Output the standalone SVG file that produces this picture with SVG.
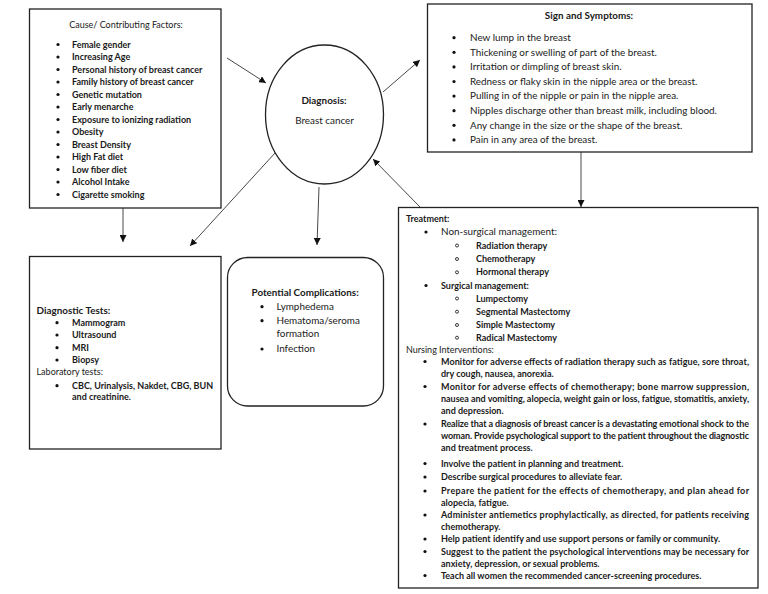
<svg xmlns="http://www.w3.org/2000/svg" width="768" height="594" viewBox="0 0 768 594">
<defs>
<marker id="ah" viewBox="0 0 10 10" refX="10" refY="5" markerWidth="7" markerHeight="7" markerUnits="userSpaceOnUse" orient="auto">
<path d="M0,0 L10,5 L0,10 z" fill="#111"/>
</marker>
<style>
text{font-family:Lato,"Liberation Sans",sans-serif;font-size:9px;fill:#1a1a1a}
.b,.b text{font-weight:bold}
.c{text-anchor:middle}
.l,.l text{font-size:9.9px}
.box{fill:#fff;stroke:#222;stroke-width:1.3}
.con{stroke:#333;stroke-width:0.9;fill:none;marker-end:url(#ah)}
.dot{fill:#111}
.ring{fill:none;stroke:#222;stroke-width:0.9}
</style>
</defs>
<rect width="768" height="594" fill="#fff"/>

<g id="connectors">
<line class="con" x1="227" y1="58" x2="266" y2="83"/>
<line class="con" x1="383" y1="92" x2="420" y2="60"/>
<line class="con" x1="275" y1="153" x2="190" y2="246"/>
<line class="con" x1="319" y1="187" x2="317" y2="245"/>
<line class="con" x1="420" y1="207" x2="373" y2="159"/>
<line class="con" x1="123" y1="208" x2="123" y2="242"/>
<line class="con" x1="581" y1="152" x2="581" y2="207"/>
</g>

<g id="causes">
<rect class="box" x="29.5" y="9" width="191.5" height="199"/>
<text class="c" x="126" y="27.5">Cause/ Contributing Factors:</text>
<g class="dot">
<circle cx="58" cy="44.5" r="1.6"/><circle cx="58" cy="57" r="1.6"/><circle cx="58" cy="69.5" r="1.6"/><circle cx="58" cy="82" r="1.6"/><circle cx="58" cy="94.5" r="1.6"/><circle cx="58" cy="107" r="1.6"/><circle cx="58" cy="119.5" r="1.6"/><circle cx="58" cy="132" r="1.6"/><circle cx="58" cy="144.5" r="1.6"/><circle cx="58" cy="157" r="1.6"/><circle cx="58" cy="169.5" r="1.6"/><circle cx="58" cy="182" r="1.6"/><circle cx="58" cy="194.5" r="1.6"/>
</g>
<g class="b">
<text x="72" y="47.5">Female gender</text>
<text x="72" y="60">Increasing Age</text>
<text x="72" y="72.5">Personal history of breast cancer</text>
<text x="72" y="85">Family history of breast cancer</text>
<text x="72" y="97.5">Genetic mutation</text>
<text x="72" y="110">Early menarche</text>
<text x="72" y="122.5">Exposure to ionizing radiation</text>
<text x="72" y="135">Obesity</text>
<text x="72" y="147.5">Breast Density</text>
<text x="72" y="160">High Fat diet</text>
<text x="72" y="172.5">Low fiber diet</text>
<text x="72" y="185">Alcohol Intake</text>
<text x="72" y="197.5">Cigarette smoking</text>
</g>
</g>

<g id="diagnosis">
<ellipse cx="324.5" cy="114.5" rx="59" ry="69.5" fill="#fff" stroke="#222" stroke-width="1.3"/>
<text class="c b l" x="324" y="103.5">Diagnosis:</text>
<text class="c l" x="324.5" y="124">Breast cancer</text>
</g>

<g id="signs">
<rect class="box" x="427.5" y="4" width="324.5" height="148"/>
<text class="c b l" x="589" y="18.5">Sign and Symptoms:</text>
<g class="dot">
<circle cx="454" cy="37.7" r="1.6"/><circle cx="454" cy="52.3" r="1.6"/><circle cx="454" cy="66.9" r="1.6"/><circle cx="454" cy="81.5" r="1.6"/><circle cx="454" cy="96.1" r="1.6"/><circle cx="454" cy="110.7" r="1.6"/><circle cx="454" cy="125.3" r="1.6"/><circle cx="454" cy="139.9" r="1.6"/>
</g>
<g class="l">
<text x="470" y="41">New lump in the breast</text>
<text x="470" y="55.6">Thickening or swelling of part of the breast.</text>
<text x="470" y="70.2">Irritation or dimpling of breast skin.</text>
<text x="470" y="84.8">Redness or flaky skin in the nipple area or the breast.</text>
<text x="470" y="99.4">Pulling in of the nipple or pain in the nipple area.</text>
<text x="470" y="114">Nipples discharge other than breast milk, including blood.</text>
<text x="470" y="128.6">Any change in the size or the shape of the breast.</text>
<text x="470" y="143.2">Pain in any area of the breast.</text>
</g>
</g>

<g id="diagnostic-tests">
<rect class="box" x="29.5" y="256.5" width="191.5" height="192.5"/>
<text class="b l" x="36.5" y="314.3">Diagnostic Tests:</text>
<g class="dot">
<circle cx="57" cy="322.7" r="1.6"/><circle cx="57" cy="335" r="1.6"/><circle cx="57" cy="347.7" r="1.6"/><circle cx="57" cy="360" r="1.6"/><circle cx="57" cy="385.7" r="1.6"/>
</g>
<g class="b">
<text x="72" y="325.7">Mammogram</text>
<text x="72" y="338">Ultrasound</text>
<text x="72" y="350.7">MRI</text>
<text x="72" y="363">Biopsy</text>
</g>
<text x="36.5" y="374.7">Laboratory tests:</text>
<text class="b" x="72" y="388.7">CBC, Urinalysis, Nakdet, CBG, BUN</text>
<text class="b" x="72" y="399.7">and creatinine.</text>
</g>

<g id="complications">
<rect class="box" x="227.5" y="257.5" width="156" height="148.5" rx="20" ry="20"/>
<text class="b l" x="251.5" y="296">Potential Complications:</text>
<g class="dot">
<circle cx="262" cy="306.7" r="1.6"/><circle cx="262" cy="320.7" r="1.6"/><circle cx="262" cy="349" r="1.6"/>
</g>
<g class="l">
<text x="276.5" y="310">Lymphedema</text>
<text x="276.5" y="324">Hematoma/seroma</text>
<text x="276.5" y="337.3">formation</text>
<text x="276.5" y="352.3">Infection</text>
</g>
</g>

<g id="treatment">
<rect class="box" x="398.5" y="207.5" width="359.5" height="380.5"/>
<text class="b" x="406" y="222">Treatment:</text>
<g class="dot">
<circle cx="426" cy="232" r="1.6"/><circle cx="426" cy="285.5" r="1.6"/>
</g>
<g class="ring">
<circle cx="457" cy="245.5" r="1.5"/><circle cx="457" cy="259" r="1.5"/><circle cx="457" cy="272.3" r="1.5"/>
<circle cx="457" cy="298.5" r="1.5"/><circle cx="457" cy="311.7" r="1.5"/><circle cx="457" cy="325" r="1.5"/><circle cx="457" cy="337.7" r="1.5"/>
</g>
<text class="l" x="441" y="235.3">Non-surgical management:</text>
<g class="b">
<text x="476" y="248.5">Radiation therapy</text>
<text x="476" y="262">Chemotherapy</text>
<text x="476" y="275.3">Hormonal therapy</text>
<text x="441" y="288.5">Surgical management:</text>
<text x="476" y="301.5">Lumpectomy</text>
<text x="476" y="314.7">Segmental Mastectomy</text>
<text x="476" y="328">Simple Mastectomy</text>
<text x="476" y="340.7">Radical Mastectomy</text>
</g>
<text x="406" y="352.7">Nursing Interventions:</text>
<g class="dot">
<circle cx="425" cy="361.5" r="1.6"/><circle cx="425" cy="386.5" r="1.6"/><circle cx="425" cy="424" r="1.6"/><circle cx="425" cy="463.5" r="1.6"/><circle cx="425" cy="477" r="1.6"/><circle cx="425" cy="491" r="1.6"/><circle cx="425" cy="515" r="1.6"/><circle cx="425" cy="539" r="1.6"/><circle cx="425" cy="551.5" r="1.6"/><circle cx="425" cy="575.5" r="1.6"/>
</g>
<g class="b">
<text x="441" y="364.5" textLength="308" lengthAdjust="spacing">Monitor for adverse effects of radiation therapy such as fatigue, sore throat,</text>
<text x="441" y="376.5">dry cough, nausea, anorexia.</text>
<text x="441" y="389.5" textLength="308" lengthAdjust="spacing">Monitor for adverse effects of chemotherapy; bone marrow suppression,</text>
<text x="441" y="401.5" textLength="308" lengthAdjust="spacing">nausea and vomiting, alopecia, weight gain or loss, fatigue, stomatitis, anxiety,</text>
<text x="441" y="413.5">and depression.</text>
<text x="441" y="427" textLength="308" lengthAdjust="spacing">Realize that a diagnosis of breast cancer is a devastating emotional shock to the</text>
<text x="441" y="439" textLength="308" lengthAdjust="spacing">woman. Provide psychological support to the patient throughout the diagnostic</text>
<text x="441" y="451">and treatment process.</text>
<text x="441" y="466.5">Involve the patient in planning and treatment.</text>
<text x="441" y="480">Describe surgical procedures to alleviate fear.</text>
<text x="441" y="494" textLength="308" lengthAdjust="spacing">Prepare the patient for the effects of chemotherapy, and plan ahead for</text>
<text x="441" y="506">alopecia, fatigue.</text>
<text x="441" y="518" textLength="308" lengthAdjust="spacing">Administer antiemetics prophylactically, as directed, for patients receiving</text>
<text x="441" y="530">chemotherapy.</text>
<text x="441" y="542">Help patient identify and use support persons or family or community.</text>
<text x="441" y="554.5" textLength="308" lengthAdjust="spacing">Suggest to the patient the psychological interventions may be necessary for</text>
<text x="441" y="566.5">anxiety, depression, or sexual problems.</text>
<text x="441" y="578.5">Teach all women the recommended cancer-screening procedures.</text>
</g>
</g>
</svg>
